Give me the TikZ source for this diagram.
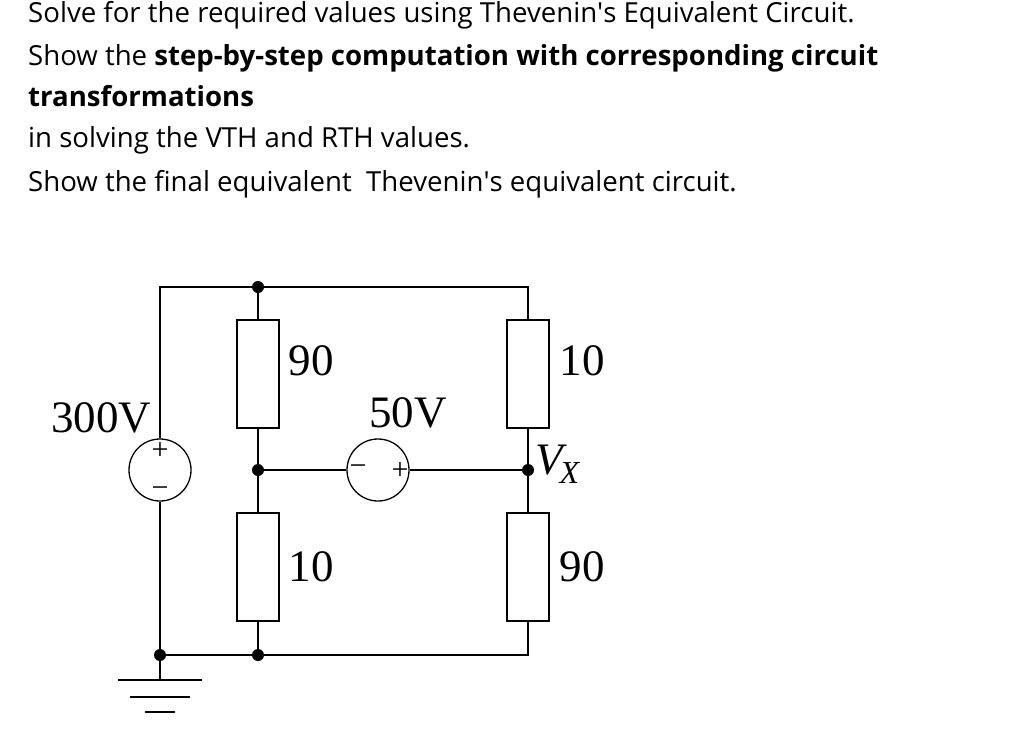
\documentclass[tikz,border=0pt]{standalone}
\usepackage{fontspec}
\setmainfont{Open Sans}
\newfontfamily\cfont{Liberation Serif}
\begin{document}
\begin{tikzpicture}[x=1pt,y=-1pt,
  txt/.style={anchor=west,inner sep=0pt,font=\fontsize{27.6}{30}\selectfont},
  res/.style={draw,line width=1.3pt,minimum width=42pt,minimum height=108pt,inner sep=0pt},
  src/.style={draw,line width=1.3pt,circle,minimum size=62pt,inner sep=0pt},
  dot/.style={circle,fill,inner sep=0pt,minimum size=12pt},
  lab/.style={font=\cfont\fontsize{45}{48}\selectfont,inner sep=0pt},
  sg/.style={font=\cfont\fontsize{30}{30}\selectfont,inner sep=0pt},
  w/.style={line width=1.3pt}]
\useasboundingbox (0,0) rectangle (1024,736);
\node[txt] (t1) at (28,15) {Solve for the required values using Thevenin\textquotesingle s Equivalent Circuit.};
\node[txt] (t2) at (28,58) {Show the \textbf{step-by-step computation with corresponding circuit}};
\node[txt] (t3) at (28,96) {\textbf{transformations}};
\node[txt] (t4) at (28,140) {in solving the VTH and RTH values.};
\node[txt] (t5) at (28,184) {Show the final equivalent\ \ Thevenin\textquotesingle s equivalent circuit.};
% nodes
\coordinate (tl) at (160,287);
\node[dot] (tm) at (258,287) {};
\coordinate (tr) at (528,287);
\node[dot] (mm) at (258,470) {};
\node[dot] (mr) at (528,470) {};
\node[dot] (bl) at (160,655) {};
\node[dot] (bm) at (258,655) {};
\coordinate (br) at (528,655);
\node[res] (r1) at (258,374) {};
\node[res] (r2) at (258,567) {};
\node[res] (r3) at (528,374) {};
\node[res] (r4) at (528,567) {};
\node[src] (v1) at (160,470) {};
\node[src] (v2) at (378,470) {};
\draw[w] (v1.north) -- (tl) -- (tm) -- (tr) -- (r3.north);
\draw[w] (tm) -- (r1.north); \draw[w] (r1.south) -- (mm) -- (r2.north);
\draw[w] (r2.south) -- (bm); \draw[w] (r3.south) -- (mr) -- (r4.north);
\draw[w] (r4.south) -- (br) -- (bm) -- (bl) -- (v1.south);
\draw[w] (mm) -- (v2.west); \draw[w] (v2.east) -- (mr);
% signs
\node[sg] (p1) at (160,451) {+};
\node[sg] (m1) at (160,492) {\textminus};
\node[sg] (m2) at (358,470) {\textminus};
\node[sg] (p2) at (400,471) {+};
% ground
\coordinate (g) at (160,680);
\draw[w] (bl) -- (g);
\draw[w] (118,680) -- (202,680);
\draw[w] (130,697) -- (190,697);
\draw[w] (145,712) -- (175,712);
% labels
\node[lab] (l300) at (101,418) {300V};
\node[lab] (l90a) at (311,361) {90};
\node[lab] (l10a) at (582,361) {10};
\node[lab] (l50) at (408,413) {50V};
\node[lab,anchor=west] (lvx) at (535,464) {\itshape V\kern-3pt\raisebox{-9pt}{\fontsize{32}{32}\selectfont X}};
\node[lab] (l10b) at (311,567) {10};
\node[lab] (l90b) at (582,567) {90};
\end{tikzpicture}
\end{document}
